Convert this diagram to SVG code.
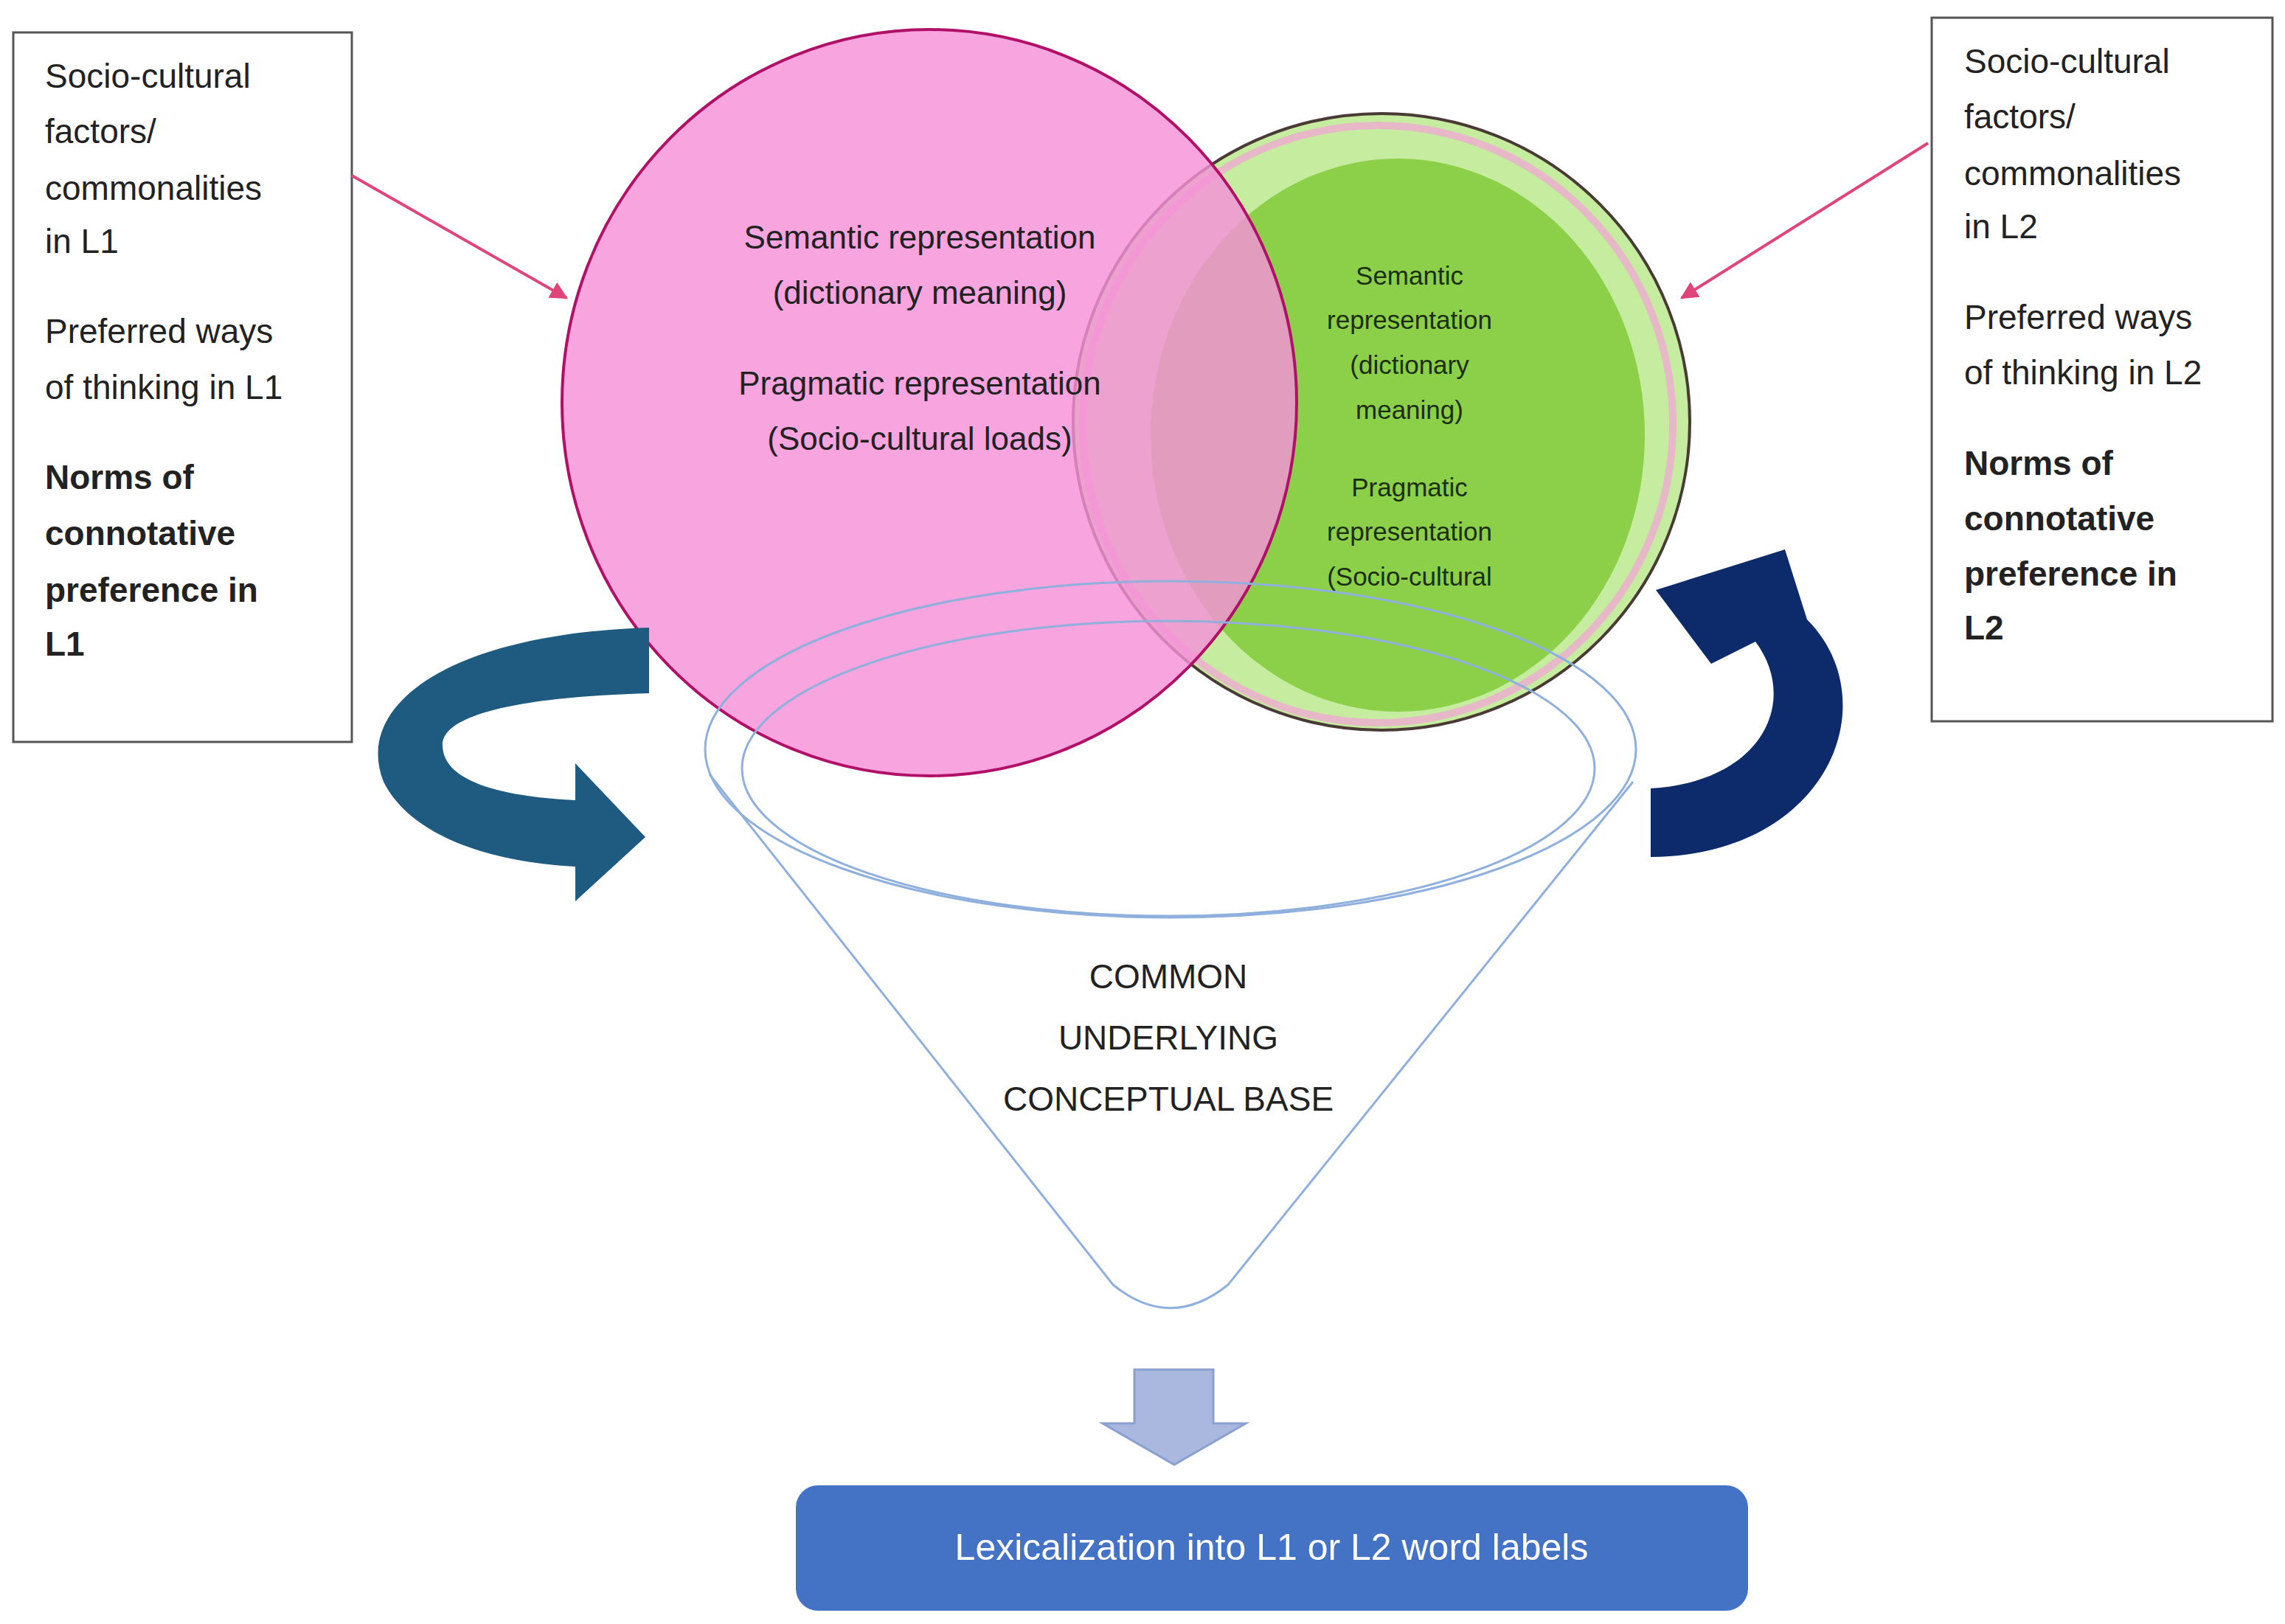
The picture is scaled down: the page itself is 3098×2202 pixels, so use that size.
<svg xmlns="http://www.w3.org/2000/svg" width="3098" height="2202" viewBox="0 0 3098 2202">
<style>
.box{fill:#fff;stroke:#555;stroke-width:3}
.t{font-family:"Liberation Sans",sans-serif;font-size:46px;fill:#222}
.b{font-weight:bold}
.pk{font-family:"Liberation Sans",sans-serif;font-size:44px;fill:#222;text-anchor:middle}
.gr{font-family:"Liberation Sans",sans-serif;font-size:35px;fill:#1b2e10;text-anchor:middle}
.fn{fill:none;stroke:#8fb0dc;stroke-width:3}
</style>
<defs>
<marker id="ah" viewBox="0 0 10 10" refX="9" refY="5" markerWidth="6" markerHeight="6" orient="auto"><path d="M0,0 L10,5 L0,10 Z" fill="#e0457a"/></marker>
</defs>
<g id="left-box"><rect class="box" x="18" y="44" width="459" height="962"/>
<text class="t" x="61" y="119">Socio-cultural</text><text class="t" x="61" y="194">factors/</text><text class="t" x="61" y="271">commonalities</text><text class="t" x="61" y="343">in L1</text>
<text class="t" x="61" y="465">Preferred ways</text><text class="t" x="61" y="541">of thinking in L1</text>
<text class="t b" x="61" y="663">Norms of</text><text class="t b" x="61" y="739">connotative</text><text class="t b" x="61" y="816">preference in</text><text class="t b" x="61" y="889">L1</text></g>
<g id="right-box"><rect class="box" x="2619" y="24" width="462" height="954"/>
<text class="t" x="2663" y="99">Socio-cultural</text><text class="t" x="2663" y="174">factors/</text><text class="t" x="2663" y="251">commonalities</text><text class="t" x="2663" y="323">in L2</text>
<text class="t" x="2663" y="446">Preferred ways</text><text class="t" x="2663" y="521">of thinking in L2</text>
<text class="t b" x="2663" y="644">Norms of</text><text class="t b" x="2663" y="719">connotative</text><text class="t b" x="2663" y="794">preference in</text><text class="t b" x="2663" y="867">L2</text></g>
<g id="green-circle">
<ellipse cx="1873" cy="572" rx="418" ry="418" fill="#c6eca0" stroke="#4a3a35" stroke-width="4"/>
<ellipse cx="1868" cy="575" rx="400" ry="405" fill="none" stroke="#e6b8c8" stroke-width="10"/>
<ellipse cx="1895" cy="590" rx="335" ry="375" fill="#8cd04a"/>
</g>
<g id="pink-circle">
<ellipse cx="1260" cy="546" rx="498" ry="506" fill="#f590d8" fill-opacity="0.82" stroke="#b01068" stroke-width="4"/>
<text class="pk" x="1247" y="337">Semantic representation</text><text class="pk" x="1247" y="412">(dictionary meaning)</text>
<text class="pk" x="1247" y="535">Pragmatic representation</text><text class="pk" x="1247" y="610">(Socio-cultural loads)</text>
</g>
<g id="green-text">
<text class="gr" x="1911" y="386">Semantic</text><text class="gr" x="1911" y="446">representation</text><text class="gr" x="1911" y="507">(dictionary</text><text class="gr" x="1911" y="568">meaning)</text>
<text class="gr" x="1911" y="673">Pragmatic</text><text class="gr" x="1911" y="733">representation</text><text class="gr" x="1911" y="794">(Socio-cultural</text>
</g>
<g id="funnel">
<path class="fn" d="M 962 1050 L 1509 1742 Q 1587 1805 1665 1742 L 2214 1060" fill="#fff" fill-opacity="0.2"/>
<ellipse class="fn" cx="1587" cy="1016" rx="631" ry="228" fill="#fff" fill-opacity="0.25"/>
<ellipse class="fn" cx="1584" cy="1042" rx="578" ry="200"/>
<text class="t" x="1584" y="1340" text-anchor="middle">COMMON</text>
<text class="t" x="1584" y="1423" text-anchor="middle">UNDERLYING</text>
<text class="t" x="1584" y="1506" text-anchor="middle">CONCEPTUAL BASE</text>
</g>
<g id="connectors">
<line x1="477" y1="238" x2="768" y2="404" stroke="#e0457a" stroke-width="4" marker-end="url(#ah)"/>
<line x1="2614" y1="194" x2="2280" y2="404" stroke="#e0457a" stroke-width="4" marker-end="url(#ah)"/>
<path d="M 880 851 C 600 860 480 960 520 1060 C 560 1140 680 1170 780 1175 L 780 1222 L 875 1135 L 780 1035 L 780 1085 C 680 1080 600 1060 600 1010 C 600 970 700 945 880 940 Z" fill="#1f5a80"/>
<path d="M 2238 1069 C 2390 1060 2440 950 2380 870 L 2320 900 L 2245 800 L 2420 745 L 2450 840 C 2560 950 2480 1160 2238 1162 Z" fill="#0d2a6a"/>
<path d="M 1538 1857 L 1645 1857 L 1645 1930 L 1689 1930 L 1592 1986 L 1495 1930 L 1538 1930 Z" fill="#aab8e0" stroke="#8aa0d0" stroke-width="3"/>
</g>
<g id="lexicalization">
<rect x="1079" y="2014" width="1291" height="170" rx="30" fill="#4472c4"/>
<text x="1724" y="2115" text-anchor="middle" font-family="Liberation Sans, sans-serif" font-size="50" fill="#fff">Lexicalization into L1 or L2 word labels</text>
</g>
</svg>
